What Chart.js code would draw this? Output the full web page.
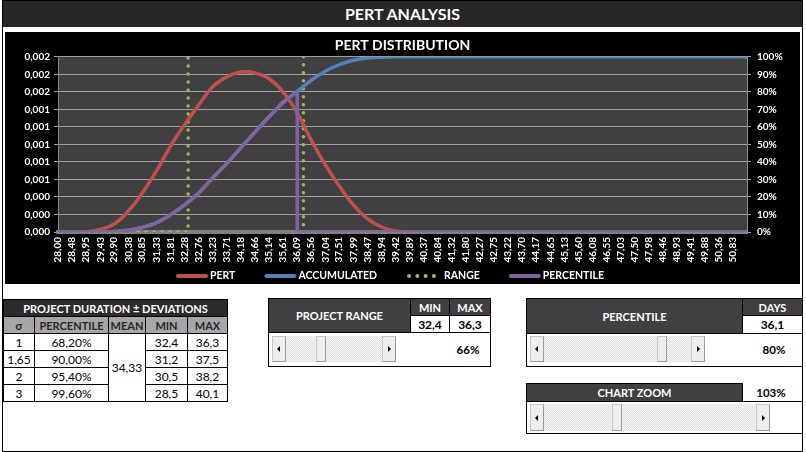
<!DOCTYPE html>
<html><head><meta charset="utf-8">
<script src="https://cdn.jsdelivr.net/npm/chart.js@4.4.1/dist/chart.umd.min.js"></script>
<style>
html,body{margin:0;padding:0;background:#fff;width:806px;height:452px;overflow:hidden;font-family:Lato,"Open Sans",sans-serif}
.abs{position:absolute;box-sizing:border-box}
#frame{left:2px;top:0;width:801px;height:452px;border:1px solid #000}
#hdr{left:3px;top:1px;width:799px;height:26px;background:#262626;color:#fff;font-weight:bold;font-size:16px;text-align:center;line-height:26px}
#chartbox{left:5px;top:32px;width:795px;height:252px;background:#000}
.dk{background:#404040;color:#fff;font-weight:bold;font-size:11px;display:flex;align-items:center;justify-content:center;border:1px solid #000}
.wc{background:#fff;color:#000;font-weight:bold;font-size:12px;display:flex;align-items:center;justify-content:center;border:1px solid #000}
.tx{color:#000;font-weight:bold;font-size:11.5px;display:flex;align-items:center;justify-content:center}
.box{border:1px solid #000}
#t1{position:absolute;left:3px;top:299px;border-collapse:collapse;table-layout:fixed;width:224px;font-size:12px}
#t1 td,#t1 th{border:1px solid #000;padding:0;text-align:center;height:16px;line-height:15px}
#t1 th{background:#2b2b2b;color:#fff;font-weight:bold;font-size:11px}
#t1 tr.gr td{background:#a6a6a6;color:#262626;font-weight:bold;font-size:11px}
.sb{position:absolute;box-sizing:border-box;background-color:#efefef;background-image:repeating-conic-gradient(#e0e0e0 0% 25%,#f7f7f7 0% 50%);background-size:2px 2px}
.sb .b{position:absolute;top:0;width:14px;height:100%;box-sizing:border-box;background:#eeeeee;border:1px solid #c6c6c6;border-right-color:#9a9a9a;border-bottom-color:#9a9a9a}
.sb .l{left:0}.sb .r{right:0}
.sb .l::after,.sb .r::after{content:'';position:absolute;top:50%;left:50%;margin-top:-3px;width:0;height:0;border-top:3px solid transparent;border-bottom:3px solid transparent}
.sb .l::after{border-right:3px solid #000;margin-left:-2px}
.sb .r::after{border-left:3px solid #000;margin-left:-1px}
.sb .t{position:absolute;top:0;width:10px;height:100%;box-sizing:border-box;background:#eeeeee;border:1px solid #c6c6c6;border-right-color:#9a9a9a;border-bottom-color:#9a9a9a}
</style></head>
<body>
<div id="frame" class="abs"></div>
<div id="hdr" class="abs">PERT ANALYSIS</div>
<div id="chartbox" class="abs"><canvas id="c" width="795" height="252"></canvas></div>

<table id="t1">
<colgroup><col style="width:31px"><col style="width:74px"><col style="width:37px"><col style="width:42px"><col style="width:40px"></colgroup>
<tr><th colspan="5">PROJECT DURATION ± DEVIATIONS</th></tr>
<tr class="gr"><td>σ</td><td>PERCENTILE</td><td>MEAN</td><td>MIN</td><td>MAX</td></tr>
<tr><td>1</td><td>68,20%</td><td rowspan="4">34,33</td><td>32,4</td><td>36,3</td></tr>
<tr><td>1,65</td><td>90,00%</td><td>31,2</td><td>37,5</td></tr>
<tr><td>2</td><td>95,40%</td><td>30,5</td><td>38,2</td></tr>
<tr><td>3</td><td>99,60%</td><td>28,5</td><td>40,1</td></tr>
</table>

<!-- PROJECT RANGE panel -->
<div class="abs box" style="left:268px;top:298px;width:223px;height:69px"></div>
<div class="abs dk" style="left:268px;top:298px;width:143px;height:35px">PROJECT RANGE</div>
<div class="abs dk" style="left:410px;top:298px;width:40px;height:18px">MIN</div>
<div class="abs dk" style="left:449px;top:298px;width:42px;height:18px">MAX</div>
<div class="abs wc" style="left:410px;top:315px;width:40px;height:18px">32,4</div>
<div class="abs wc" style="left:449px;top:315px;width:42px;height:18px">36,3</div>
<div class="sb" style="left:272px;top:336px;width:124px;height:26px"><div class="b l"></div><div class="t" style="left:44px"></div><div class="b r"></div></div>
<div class="abs tx" style="left:450px;top:336px;width:36px;height:26px">66%</div>

<!-- PERCENTILE panel -->
<div class="abs box" style="left:526px;top:298px;width:277px;height:69px"></div>
<div class="abs dk" style="left:526px;top:298px;width:217px;height:36px">PERCENTILE</div>
<div class="abs dk" style="left:742px;top:298px;width:61px;height:18px">DAYS</div>
<div class="abs wc" style="left:742px;top:315px;width:61px;height:19px">36,1</div>
<div class="sb" style="left:530px;top:336px;width:175px;height:26px"><div class="b l"></div><div class="t" style="left:127px"></div><div class="b r"></div></div>
<div class="abs tx" style="left:756px;top:336px;width:36px;height:26px">80%</div>

<!-- CHART ZOOM panel -->
<div class="abs dk" style="left:526px;top:383px;width:217px;height:19px">CHART ZOOM</div>
<div class="abs tx" style="left:742px;top:383px;width:58px;height:18px">103%</div>
<div class="abs box" style="left:526px;top:401px;width:277px;height:33px"></div>
<div class="sb" style="left:530px;top:404px;width:240px;height:27px"><div class="b l"></div><div class="t" style="left:82px"></div><div class="b r"></div></div>

<script>
// ---- data ----
const xPoints = [28.00,28.48,28.95,29.43,29.90,30.38,30.85,31.33,31.81,32.28,32.76,33.23,33.71,34.18,34.66,35.14,35.61,36.09,36.56,37.04,37.51,37.99,38.47,38.94,39.42,39.89,40.37,40.84,41.32,41.80,42.27,42.75,43.22,43.70,44.17,44.65,45.13,45.60,46.08,46.55,47.03,47.50,47.98,48.46,48.93,49.41,49.88,50.36,50.83,51.30];
const xTickLabels = ['28,00','28,48','28,95','29,43','29,90','30,38','30,85','31,33','31,81','32,28','32,76','33,23','33,71','34,18','34,66','35,14','35,61','36,09','36,56','37,04','37,51','37,99','38,47','38,94','39,42','39,89','40,37','40,84','41,32','41,80','42,27','42,75','43,22','43,70','44,17','44,65','45,13','45,60','46,08','46,55','47,03','47,50','47,98','48,46','48,93','49,41','49,88','50,36','50,83'];
const pertValues = [0,0,0.000003,0.000029,0.000091,0.000240,0.000446,0.000697,0.000983,0.001223,0.001451,0.001657,0.001771,0.001826,0.001815,0.001749,0.001600,0.001360,0.001051,0.000766,0.000526,0.000309,0.000149,0.000057,0.000011,0,0,0,0,0,0,0,0,0,0,0,0,0,0,0,0,0,0,0,0,0,0,0,0,0];
const accumulatedPct = [0,0,0,0.1,0.3,1.0,2.6,5.3,9.9,15.5,22.3,30.8,39.2,48.0,57.0,65.8,74.0,80.2,86.6,91.8,95.5,98.0,99.3,99.8,100,100,100,100,100,100,100,100,100,100,100,100,100,100,100,100,100,100,100,100,100,100,100,100,100,100];
const leftTickLabels = ['0,000','0,000','0,000','0,001','0,001','0,001','0,001','0,001','0,002','0,002','0,002'];
const rightTickLabels = ['0%','10%','20%','30%','40%','50%','60%','70%','80%','90%','100%'];
const rangeMin = 32.4, rangeMax = 36.3;
const percentileDays = 36.09;
const xMin = 28.00, xMax = 51.30;

// ---- build datasets ----
const pertPts = xPoints.map((x,i)=>({x, y:pertValues[i]}));
const accPts = xPoints.map((x,i)=>({x, y:accumulatedPct[i]}));
const percIdx = xPoints.filter(x=>x<=percentileDays).length - 1;
const percPts = xPoints.slice(0, percIdx+1).map((x,i)=>({x, y:accumulatedPct[i]}));
const percDrop = [{x:xPoints[percIdx], y:accumulatedPct[percIdx]},{x:xPoints[percIdx], y:0},{x:xMax, y:0}];
const rangePts = [{x:xMin,y:0},{x:rangeMin,y:0},{x:rangeMin,y:100},{x:rangeMin,y:null},{x:rangeMax,y:100},{x:rangeMax,y:0},{x:xMax,y:0}];

const FONT = 'Lato';
Chart.defaults.font.family = FONT;

const bgPlugin = {
  id:'plotBg',
  beforeDraw(chart){
    const {ctx, chartArea:a} = chart;
    ctx.save();
    ctx.fillStyle = '#000';
    ctx.fillRect(0,0,chart.width,chart.height);
    ctx.fillStyle = '#404040';
    ctx.fillRect(a.left,a.top,a.right-a.left,a.bottom-a.top);
    ctx.restore();
  }
};
const legendPlugin = {
  id:'lineLegend',
  afterDraw(chart){
    const ctx = chart.ctx;
    const y = chart.height - 8;
    let x = chart.chartArea.left + 119;
    ctx.save();
    ctx.font = 'bold 10.5px ' + FONT;
    ctx.textBaseline = 'middle';
    chart.data.datasets.forEach(ds=>{
      if (!ds.label) return;
      ctx.strokeStyle = ds.borderColor;
      ctx.lineWidth = 4;
      let textX;
      if (ds.borderDash){
        ctx.setLineDash([0, 8.3]);
        ctx.lineCap = 'round';
        ctx.beginPath(); ctx.moveTo(x+2, y); ctx.lineTo(x+30, y); ctx.stroke();
        textX = x + 37;
      } else {
        ctx.setLineDash([]);
        ctx.lineCap = 'round';
        ctx.beginPath(); ctx.moveTo(x+1, y); ctx.lineTo(x+29, y); ctx.stroke();
        textX = x + 33;
      }
      ctx.setLineDash([]);
      ctx.fillStyle = '#fff';
      ctx.fillText(ds.label, textX, y);
      x = textX + ctx.measureText(ds.label).width + 30;
    });
    ctx.restore();
  }
};

const tickFont = {family:FONT, size:10, weight:'bold'};
new Chart(document.getElementById('c'), {
  type:'line',
  data:{datasets:[
    {label:'PERT', data:pertPts, borderColor:'#C0504D', borderWidth:3.5, pointRadius:0, tension:0.4, yAxisID:'y', order:2},
    {label:'ACCUMULATED', data:accPts, borderColor:'#4F81BD', borderWidth:3.5, pointRadius:0, cubicInterpolationMode:'monotone', yAxisID:'y1', order:3},
    {label:'RANGE', data:rangePts, borderColor:'#9BBB59', borderWidth:3.5, borderDash:[0,8], borderCapStyle:'round', pointRadius:0, spanGaps:false, yAxisID:'y1', order:4},
    {label:'PERCENTILE', data:percPts, borderColor:'#8064A2', borderWidth:3.5, pointRadius:0, cubicInterpolationMode:'monotone', yAxisID:'y1', order:0},
    {label:'', data:percDrop, borderColor:'#8064A2', borderWidth:3.5, pointRadius:0, tension:0, yAxisID:'y1', order:1}
  ]},
  options:{
    responsive:false, animation:false, devicePixelRatio:1,
    layout:{padding:{left:0,right:0,top:0,bottom:16}},
    plugins:{
      legend:{display:false}, tooltip:{enabled:false},
      title:{display:true, text:'PERT DISTRIBUTION', color:'#fff', font:{family:FONT,size:14,weight:'bold'}, padding:{top:5,bottom:3}}
    },
    scales:{
      x:{type:'linear', min:xMin, max:xMax,
        afterBuildTicks:s=>{ s.ticks = xTickLabels.map((_,i)=>({value:xPoints[i]})); },
        afterFit:s=>{ s.height = 36; },
        ticks:{autoSkip:false, minRotation:90, maxRotation:90, color:'#fff', font:tickFont, padding:5, callback:(v,i)=>xTickLabels[i]},
        grid:{display:false, drawTicks:false},
        border:{display:true, color:'#808080', width:4}
      },
      y:{position:'left', min:0, max:0.002,
        afterFit:s=>{ s.width = 53; },
        ticks:{stepSize:0.0002, color:'#fff', font:tickFont, padding:4, callback:(v,i)=>leftTickLabels[i]},
        grid:{color:'#a0a0a0', lineWidth:1, tickLength:4, drawTicks:true},
        border:{color:'#8a8a8a', width:1}
      },
      y1:{position:'right', min:0, max:100,
        afterFit:s=>{ s.width = 53; },
        ticks:{stepSize:10, color:'#fff', font:tickFont, padding:6, callback:(v,i)=>rightTickLabels[i]},
        grid:{drawOnChartArea:false, color:'#a0a0a0', tickLength:4, drawTicks:true},
        border:{color:'#8a8a8a', width:1}
      }
    }
  },
  plugins:[bgPlugin, legendPlugin]
});
</script>
</body></html>
